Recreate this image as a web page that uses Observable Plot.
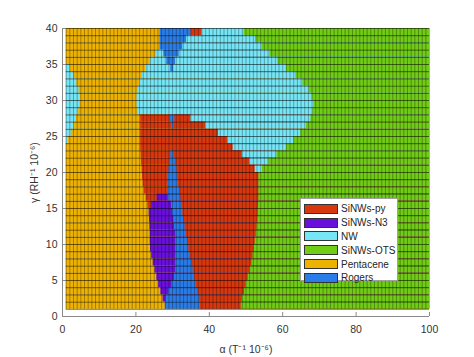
<!DOCTYPE html>
<html><head><meta charset="utf-8">
<script src="https://cdn.jsdelivr.net/npm/d3@7"></script>
<script src="https://cdn.jsdelivr.net/npm/@observablehq/plot@0.6"></script>
<style>
body{margin:0;background:#fff;font-family:"Liberation Sans",Arial,sans-serif}
#wrap{position:relative;width:474px;height:357px}
#legend{position:absolute;left:300px;top:198px;width:98px;height:83px;background:#fff;border:1px solid #a0a0a0;box-sizing:border-box;padding:3px 0 0 3px}
.item{display:flex;align-items:center;height:13.8px;font-size:10px;color:#262626;white-space:nowrap}
.sw{width:34px;height:10px;border:1px solid #333;box-sizing:border-box;margin-right:3px;flex:none}
</style></head><body><div id="wrap"></div>
<script>
// Categories and colours (legend order)
const categories = ["SiNWs-py", "SiNWs-N3", "NW", "SiNWs-OTS", "Pentacene", "Rogers"];
const colors = ["#D9380E", "#6A10DC", "#76E6F7", "#70CC14", "#EEB200", "#2A7DE8"];
const codes = {R: "SiNWs-py", U: "SiNWs-N3", C: "NW", G: "SiNWs-OTS", P: "Pentacene", B: "Rogers"};

// Region map: for each row (bottom edge y), runs "code endX"
const rowBottoms = [39, 38, 37, 36, 35, 34, 33, 32, 31, 30, 29, 28, 27, 26, 25, 24, 23, 22, 21, 20,
  19, 18, 17, 16, 15, 14, 13, 12, 11, 10, 9, 8, 7, 6, 5, 4, 3, 2, 1];
const rowRuns = [
  "P 26.6,B 35,R 38,C 49.5,G 100",
  "P 26.6,B 33.8,C 52.6,G 100",
  "P 26.6,B 32.8,C 54.4,G 100",
  "P 25.5,C 27.6,B 31.8,C 56.5,G 100",
  "P 24,C 28.4,B 30.8,C 58.7,G 100",
  "C 2,P 22.7,C 29.5,B 30.3,C 61,G 100",
  "C 3,P 21.7,C 63.6,G 100",
  "C 3.9,P 21,C 65.5,G 100",
  "C 4.5,P 20.6,C 67.2,G 100",
  "C 4.9,P 20.3,C 68,G 100",
  "C 4.8,P 20.3,C 68.5,G 100",
  "C 4.4,P 20.5,C 68.2,G 100",
  "C 3.8,P 21.3,R 29.4,B 30.6,R 35,C 67.7,G 100",
  "C 3.2,P 21.3,R 29.7,B 30.3,R 39,C 66.5,G 100",
  "C 2.4,P 21.3,R 42.5,C 64.9,G 100",
  "C 1.6,P 21.3,R 45,C 63,G 100",
  "P 21.3,R 46.5,C 61,G 100",
  "P 21.4,R 29.5,B 30.4,R 49,C 58.4,G 100",
  "P 21.5,R 29.2,B 30.8,R 51,C 56.2,G 100",
  "P 21.7,R 29,B 31.2,R 52.5,C 54.5,G 100",
  "P 21.8,R 28.7,B 31.3,R 53.5,G 100",
  "P 22,R 28.7,B 31.6,R 53.5,G 100",
  "P 22.3,R 28.8,B 31.9,R 53.5,G 100",
  "P 22.8,R 25.8,U 28.8,B 32.2,R 53.5,G 100",
  "P 23.3,R 24.3,U 29.7,B 32.5,R 53.4,G 100",
  "P 23.6,U 30,B 32.8,R 53.3,G 100",
  "P 23.7,U 30.3,B 33.1,R 53.2,G 100",
  "P 23.8,U 30.5,B 33.4,R 53,G 100",
  "P 23.9,U 30.8,B 33.8,R 52.8,G 100",
  "P 23.9,U 30.8,B 34.1,R 52.5,G 100",
  "P 24,U 30.8,B 34.4,R 52.2,G 100",
  "P 24.3,U 30.8,B 34.8,R 51.9,G 100",
  "P 24.7,U 30.8,B 35.2,R 51.6,G 100",
  "P 25.2,U 30.8,B 35.6,R 51.1,G 100",
  "P 25.7,U 30.5,B 36,R 50.6,G 100",
  "P 26.2,U 29.8,B 36.5,R 50,G 100",
  "P 26.8,U 29,B 36.9,R 49.6,G 100",
  "P 27.4,U 28.2,B 37.3,R 49,G 100",
  "P 28,B 37.6,R 48.7,G 100"
];
const gridX = d3.range(1, 101);
const gridY = d3.range(1, 41);
const xTicks = [0, 20, 40, 60, 80, 100];
const yTicks = [0, 5, 10, 15, 20, 25, 30, 35, 40];

const rects = [];
rowBottoms.forEach((y, i) => {
  let start = 1;
  rowRuns[i].split(",").forEach(tok => {
    const [c, e] = tok.trim().split(" ");
    rects.push({x1: start, x2: 100, y1: y, y2: y + 1, cat: codes[c]});
    start = +e;
  });
});

const chart = Plot.plot({
  width: 474, height: 357,
  marginLeft: 62, marginRight: 45, marginTop: 28, marginBottom: 41,
  x: {domain: [0, 100]},
  y: {domain: [0, 40]},
  color: {domain: categories, range: colors},
  style: {fontFamily: "Liberation Sans, Arial, sans-serif", fontSize: "10.5px", color: "#333", background: "white"},
  marks: [
    Plot.rect(rects, {x1: "x1", x2: "x2", y1: "y1", y2: "y2", fill: "cat"}),
    Plot.ruleX(gridX, {x: d => d, y1: 1, y2: 40, stroke: "#000", strokeOpacity: 0.45, strokeWidth: 0.7}),
    Plot.ruleY(gridY, {y: d => d, x1: 1, x2: 100, stroke: "#000", strokeOpacity: 0.6, strokeWidth: 0.9}),
    Plot.ruleY([0], {stroke: "#8a8a8a"}),
    Plot.ruleX([0], {stroke: "#8a8a8a"}),
    Plot.axisX({ticks: xTicks, tickSize: -4, tickPadding: 13, stroke: "#8a8a8a",
      label: "α (T⁻¹ 10⁻⁶)", labelAnchor: "center", labelOffset: 36, labelArrow: "none"}),
    Plot.axisY({ticks: yTicks, tickSize: -4, tickPadding: 9, stroke: "#8a8a8a",
      label: "γ (RH⁻¹ 10⁻⁶)", labelAnchor: "center", labelOffset: 32, labelArrow: "none"})
  ]
});
document.getElementById("wrap").appendChild(chart);

const legend = document.createElement("div");
legend.id = "legend";
categories.forEach((c, i) => {
  const it = document.createElement("div");
  it.className = "item";
  const sw = document.createElement("span");
  sw.className = "sw";
  sw.style.background = colors[i];
  it.appendChild(sw);
  it.appendChild(document.createTextNode(c));
  legend.appendChild(it);
});
document.getElementById("wrap").appendChild(legend);
</script>
</body></html>
